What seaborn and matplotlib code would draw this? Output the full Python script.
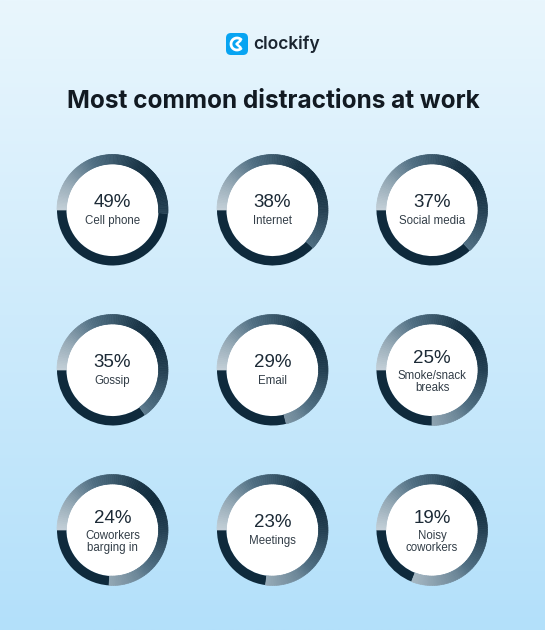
import numpy as np
import seaborn as sns
import matplotlib.pyplot as plt
from matplotlib.patches import FancyBboxPatch, Circle, Arc

# Chart data
values = [49, 38, 37, 35, 29, 25, 24, 23, 19]
labels = ["Cell phone", "Internet", "Social media", "Gossip", "Email",
          "Smoke/snack\nbreaks", "Coworkers\nbarging in", "Meetings", "Noisy\ncoworkers"]
title = "Most common distractions at work"
brand = "clockify"

sns.set_theme(style="white")
plt.rcParams['font.family'] = ['Liberation Sans', 'DejaVu Sans']

W, H = 545, 630
fig = plt.figure(figsize=(W / 100, H / 100), dpi=100)

# background gradient, pixel coordinates
bg = fig.add_axes([0, 0, 1, 1])
bg_cmap = sns.blend_palette(["#e9f6fd", "#b3e0fa"], as_cmap=True)
bg.imshow(np.linspace(0, 1, 256)[:, None], aspect='auto', cmap=bg_cmap, extent=[0, W, H, 0])
bg.set_xlim(0, W)
bg.set_ylim(H, 0)
bg.axis('off')

# logo
bg.add_patch(FancyBboxPatch((226, 33), 22, 22, boxstyle="round,pad=0,rounding_size=5",
                            fc="#08a4f2", ec="none"))
bg.add_patch(Arc((237, 44), 12, 12, theta1=40, theta2=320, lw=2, color="white"))
bg.plot([240.5, 236.5, 240.5], [40.5, 44, 47.5], color="white", lw=1.8, solid_capstyle='round')
bg.text(253, 44.5, brand, fontsize=12.5, fontweight='semibold', family='Inter',
        va='center', ha='left', color='#1b2530')

# title
bg.text(W / 2 + 1, 101, title, ha='center', va='center', fontsize=17.6, fontweight='bold',
        family='Inter', color='#121a22')

# donuts
col_x = [112.5, 272.5, 432]
row_y = [210, 370, 530]
R = 55.5
pad = 1.05
dark = "#0f2a3c"
ring_cmap = sns.blend_palette(["#0c2637", "#4f6e82", "#dfe7ec"], as_cmap=True)
key_ang = [180, 250, 300, 330, 360, 395, 420, 450, 480, 510, 540]
key_t = [0.85, 0.8, 0.6, 0.4, 0.18, 0.03, 0.1, 0.35, 0.55, 0.75, 0.9]

for i, (v, lab) in enumerate(zip(values, labels)):
    r, c = divmod(i, 3)
    cx, cy = col_x[c], row_y[r]
    ax = fig.add_axes([(cx - R * pad) / W, 1 - (cy + R * pad) / H,
                       2 * R * pad / W, 2 * R * pad / H])
    n = 120
    rest = (100 - v) / n
    mids = 180 + 3.6 * (v + rest * (np.arange(n) + 0.5))
    cols = [ring_cmap(t) for t in np.interp(mids, key_ang, key_t)]
    wedges, _ = ax.pie([v] + [rest] * n, colors=[dark] + cols, startangle=180,
                       counterclock=True, radius=1,
                       wedgeprops=dict(width=0.17, linewidth=0))
    for w in wedges[1:]:
        w.set_edgecolor(w.get_facecolor())
        w.set_linewidth(0.5)
    ax.add_patch(Circle((0, 0), 0.83, fc='white', ec='none', zorder=0.5))
    if '\n' in lab:
        ax.text(0, 0.2, f"{v}%", ha='center', va='center', fontsize=13.5, color='#1c2a36')
        ax.text(0, -0.216, lab, ha='center', va='center', fontsize=8.3,
                color='#333e48', linespacing=1.05)
    else:
        ax.text(0, 0.13, f"{v}%", ha='center', va='center', fontsize=13.5, color='#1c2a36')
        ax.text(0, -0.2, lab, ha='center', va='center', fontsize=8.3, color='#333e48')
    ax.set_xlim(-pad, pad)
    ax.set_ylim(-pad, pad)
    ax.axis('off')

fig.savefig('out.png', dpi=100)
